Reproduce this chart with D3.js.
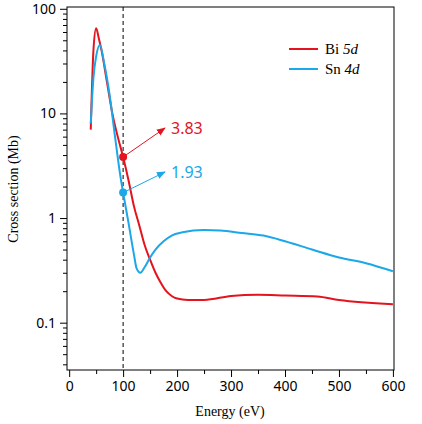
<!DOCTYPE html>
<html><head><meta charset="utf-8">
<script src="https://cdn.jsdelivr.net/npm/d3@7"></script>
<style>body{margin:0;background:#fff}</style>
</head><body><svg></svg>
<script>
var biE = [40, 45, 50, 55, 60, 70, 80, 90, 100, 110, 120, 130, 140, 150, 160, 170, 180, 190, 200, 220, 250, 300, 350, 400, 460, 500, 600];
var biSigma = [7, 40, 65, 52, 40, 20, 10, 6, 3.83, 2.3, 1.3, 0.85, 0.55, 0.4, 0.3, 0.24, 0.2, 0.18, 0.17, 0.165, 0.165, 0.18, 0.185, 0.182, 0.178, 0.165, 0.15];
var snE = [40, 45, 50, 57, 65, 75, 85, 95, 100, 110, 120, 125, 132, 140, 150, 160, 175, 190, 210, 250, 280, 320, 360, 400, 450, 500, 550, 600];
var snSigma = [8, 22, 35, 45, 30, 15, 6, 2.5, 1.75, 0.9, 0.45, 0.33, 0.3, 0.34, 0.42, 0.5, 0.6, 0.68, 0.73, 0.77, 0.76, 0.72, 0.68, 0.6, 0.5, 0.42, 0.37, 0.31];
var xTicks = [0, 100, 200, 300, 400, 500, 600];
var yTicks = [0.1, 1, 10, 100];
var labels = ["Bi", "Sn"], orbitals = ["5d", "4d"], marked = ["3.83", "1.93"];
var red = "#e3141e", blue = "#1ba7e8";

var svg = d3.select("svg").attr("width", 422).attr("height", 424);
var x = d3.scaleLinear().domain([-4, 602]).range([67, 394]);
var y = d3.scaleLog().domain([0.0353, 104]).range([370, 7]);

var minorY = [];
[0.01, 0.1, 1, 10].forEach(function(d) { for (var k = 2; k <= 9; k++) { var v = d * k; if (v >= 0.0353 && v <= 104) minorY.push(v); } });

svg.append("g").attr("transform", "translate(0,370)")
  .call(d3.axisBottom(x).tickValues(d3.range(50, 600, 100)).tickSize(4).tickFormat(""))
  .call(function(g) { g.select(".domain").remove(); });
svg.append("g").attr("transform", "translate(0,370)")
  .call(d3.axisBottom(x).tickValues(xTicks).tickSize(7).tickPadding(4))
  .call(function(g) { g.select(".domain").remove(); g.selectAll("text").attr("font-size", 14).attr("font-family", "Noto Sans"); });
svg.append("g").attr("transform", "translate(67,0)")
  .call(d3.axisLeft(y).tickValues(minorY).tickSize(4).tickFormat(""))
  .call(function(g) { g.select(".domain").remove(); });
svg.append("g").attr("transform", "translate(67,0)")
  .call(d3.axisLeft(y).tickValues(yTicks).tickSize(7).tickPadding(4).tickFormat(d3.format("~g")))
  .call(function(g) { g.select(".domain").remove(); g.selectAll("text").attr("font-size", 14).attr("font-family", "Noto Sans"); });

svg.append("rect").attr("x", 67).attr("y", 7).attr("width", 327).attr("height", 363)
  .attr("fill", "none").attr("stroke", "#000");

svg.append("line").attr("x1", x(100)).attr("x2", x(100)).attr("y1", 7).attr("y2", 370)
  .attr("stroke", "#000").attr("stroke-dasharray", "4,3");

var line = d3.line().x(function(d) { return x(d[0]); }).y(function(d) { return y(d[1]); }).curve(d3.curveMonotoneX);
var series = [d3.zip(biE, biSigma), d3.zip(snE, snSigma)];
var cols = [red, blue];
series.forEach(function(s, i) {
  svg.append("path").datum(s).attr("d", line).attr("fill", "none").attr("stroke", cols[i]).attr("stroke-width", 2);
});

var defs = svg.append("defs");
cols.forEach(function(c, i) {
  defs.append("marker").attr("id", "ah" + i).attr("viewBox", "0 0 10 10").attr("refX", 9).attr("refY", 5)
    .attr("markerWidth", 9).attr("markerHeight", 9).attr("markerUnits", "userSpaceOnUse").attr("orient", "auto")
    .append("path").attr("d", "M0,1 L10,5 L0,9 Z").attr("fill", c);
});
var markVals = [biSigma[biE.indexOf(100)], snSigma[snE.indexOf(100)]];
var labelY = [128, 172];
markVals.forEach(function(v, i) {
  svg.append("circle").attr("cx", x(100)).attr("cy", y(v)).attr("r", 4).attr("fill", cols[i]);
  svg.append("line").attr("x1", x(100)).attr("y1", y(v)).attr("x2", 165).attr("y2", labelY[i])
    .attr("stroke", cols[i]).attr("stroke-width", 1).attr("marker-end", "url(#ah" + i + ")");
  svg.append("text").attr("x", 171).attr("y", labelY[i] + 6).attr("fill", cols[i])
    .attr("font-family", "Noto Sans").attr("font-size", 16).text(marked[i]);
});

labels.forEach(function(l, i) {
  var ly = 49 + i * 20;
  svg.append("line").attr("x1", 289).attr("x2", 318).attr("y1", ly).attr("y2", ly).attr("stroke", cols[i]).attr("stroke-width", 2);
  var t = svg.append("text").attr("x", 325).attr("y", ly + 5).attr("font-family", "Liberation Serif").attr("font-size", 15);
  t.append("tspan").text(l + " ");
  t.append("tspan").attr("font-style", "italic").text(orbitals[i]);
});

svg.append("text").attr("x", 230).attr("y", 416).attr("text-anchor", "middle")
  .attr("font-family", "Liberation Serif").attr("font-size", 14).text("Energy (eV)");
svg.append("text").attr("transform", "translate(18,189) rotate(-90)").attr("text-anchor", "middle")
  .attr("font-family", "Liberation Serif").attr("font-size", 14).text("Cross section (Mb)");
</script></body></html>
